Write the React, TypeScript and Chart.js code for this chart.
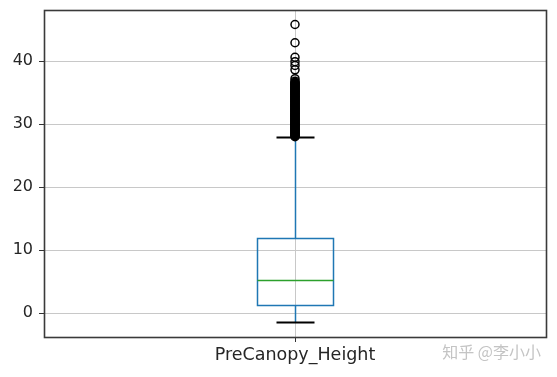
import { useEffect, useRef } from 'react';
import { Chart, registerables } from 'chart.js';
Chart.register(...registerables);

const categories = ['PreCanopy_Height'];
const lowerWhisker = [-1.4];
const q1Values = [1.2];
const medians = [5.3];
const q3Values = [11.95];
const upperWhisker = [27.9];
const outliers = [
  45.8, 42.9, 40.6, 39.9, 39.3, 38.6, 37.2, 36.8, 36.6, 36.5, 36.4, 36.3,
  36.2, 36.1, 36.0, 35.9, 35.8, 35.7, 35.6, 35.5, 35.4, 35.3, 35.2, 35.1,
  35.0, 34.9, 34.8, 34.7, 34.6, 34.5, 34.4, 34.3, 34.2, 34.1, 34.0, 33.9,
  33.8, 33.7, 33.6, 33.5, 33.4, 33.3, 33.2, 33.1, 33.0, 32.9, 32.8, 32.7,
  32.6, 32.5, 32.4, 32.3, 32.2, 32.1, 32.0, 31.9, 31.8, 31.7, 31.6, 31.5,
  31.4, 31.3, 31.2, 31.1, 31.0, 30.9, 30.8, 30.7, 30.6, 30.5, 30.4, 30.3,
  30.2, 30.1, 30.0, 29.9, 29.8, 29.7, 29.6, 29.5, 29.4, 29.3, 29.2, 29.1,
  29.0, 28.9, 28.8, 28.7, 28.6, 28.5, 28.4, 28.3, 28.2, 28.1, 28.0,
];
const yTicks = [0, 10, 20, 30, 40];
const yMin = -3.8;
const yMax = 48.1;

const BOX_HALF = 0.075;
const CAP_HALF = 0.0375;

const boxPlugin = {
  id: 'boxPlugin',
  beforeDatasetsDraw(chart: any) {
    const ctx = chart.ctx;
    const xs = chart.scales.x;
    const ys = chart.scales.y;
    const px = (v: number) => Math.round(v) + 0.5;
    ctx.save();
    categories.forEach((_, i) => {
      const pos = i + 1;
      const cx = px(xs.getPixelForValue(pos));
      const l = px(xs.getPixelForValue(pos - BOX_HALF));
      const r = px(xs.getPixelForValue(pos + BOX_HALF));
      const cl = px(xs.getPixelForValue(pos - CAP_HALF));
      const cr = px(xs.getPixelForValue(pos + CAP_HALF));
      const yq1 = px(ys.getPixelForValue(q1Values[i]));
      const yq3 = px(ys.getPixelForValue(q3Values[i]));
      const ymed = px(ys.getPixelForValue(medians[i]));
      const ylo = px(ys.getPixelForValue(lowerWhisker[i]));
      const yhi = px(ys.getPixelForValue(upperWhisker[i]));
      ctx.lineWidth = 1.5;
      ctx.strokeStyle = '#1f77b4';
      ctx.beginPath();
      ctx.moveTo(cx, yq1);
      ctx.lineTo(cx, ylo);
      ctx.moveTo(cx, yq3);
      ctx.lineTo(cx, yhi);
      ctx.stroke();
      ctx.strokeRect(l, yq3, r - l, yq1 - yq3);
      ctx.strokeStyle = '#2ca02c';
      ctx.beginPath();
      ctx.moveTo(l, ymed);
      ctx.lineTo(r, ymed);
      ctx.stroke();
      ctx.strokeStyle = '#000000';
      ctx.lineWidth = 1.8;
      ctx.beginPath();
      ctx.moveTo(cl, ylo);
      ctx.lineTo(cr, ylo);
      ctx.moveTo(cl, yhi);
      ctx.lineTo(cr, yhi);
      ctx.stroke();
    });
    ctx.restore();
  },
  afterDraw(chart: any) {
    const ctx = chart.ctx;
    const a = chart.chartArea;
    ctx.save();
    ctx.strokeStyle = '#3a3a3a';
    ctx.lineWidth = 1.6;
    ctx.strokeRect(Math.round(a.left) + 0.5, Math.round(a.top) + 0.5, Math.round(a.right - a.left), Math.round(a.bottom - a.top));
    ctx.font = '16px "Noto Sans CJK SC"';
    ctx.fillStyle = '#c4c4c4';
    ctx.textAlign = 'right';
    ctx.textBaseline = 'middle';
    ctx.fillText('知乎 @李小小', 541, 352);
    ctx.restore();
  },
};

export default function App() {
  const ref = useRef<HTMLCanvasElement>(null);
  useEffect(() => {
    document.body.style.margin = '0';
    const chart = new Chart(ref.current!, {
      type: 'scatter',
      data: {
        datasets: [
          {
            data: outliers.map((v) => ({ x: 1, y: v })),
            pointStyle: 'circle',
            pointRadius: 4,
            pointBorderWidth: 1.5,
            pointBorderColor: '#000000',
            pointBackgroundColor: 'rgba(0,0,0,0)',
          },
        ],
      },
      options: {
        animation: false,
        responsive: false,
        layout: { padding: { top: 10, right: 11, left: 0, bottom: 0 } },
        plugins: { legend: { display: false }, tooltip: { enabled: false } },
        scales: {
          x: {
            type: 'linear',
            min: 0.5,
            max: 1.5,
            afterBuildTicks: (s: any) => {
              s.ticks = categories.map((_, i) => ({ value: i + 1 }));
            },
            afterFit: (s: any) => {
              s.height = 40;
              s.paddingLeft = 0;
              s.paddingRight = 0;
            },
            border: { display: false },
            grid: { color: '#c8c8c8', lineWidth: 1, tickColor: '#333333', tickLength: 5 },
            ticks: {
              callback: (v: any) => categories[Math.round(Number(v)) - 1] ?? '',
              font: { family: 'DejaVu Sans', size: 17.5 },
              color: '#262626',
              padding: 3,
              maxRotation: 0,
            },
          },
          y: {
            type: 'linear',
            min: yMin,
            max: yMax,
            afterBuildTicks: (s: any) => {
              s.ticks = yTicks.map((v) => ({ value: v }));
            },
            afterFit: (s: any) => {
              s.width = 44;
              s.paddingTop = 0;
              s.paddingBottom = 0;
            },
            border: { display: false },
            grid: { color: '#c8c8c8', lineWidth: 1, tickColor: '#333333', tickLength: 5 },
            ticks: {
              font: { family: 'DejaVu Sans', size: 16 },
              color: '#262626',
              padding: 6,
            },
          },
        },
      },
      plugins: [boxPlugin],
    });
    return () => chart.destroy();
  }, []);
  return (
    <div style={{ width: 557, height: 377 }}>
      <canvas ref={ref} width={557} height={377} style={{ display: 'block' }} />
    </div>
  );
}
